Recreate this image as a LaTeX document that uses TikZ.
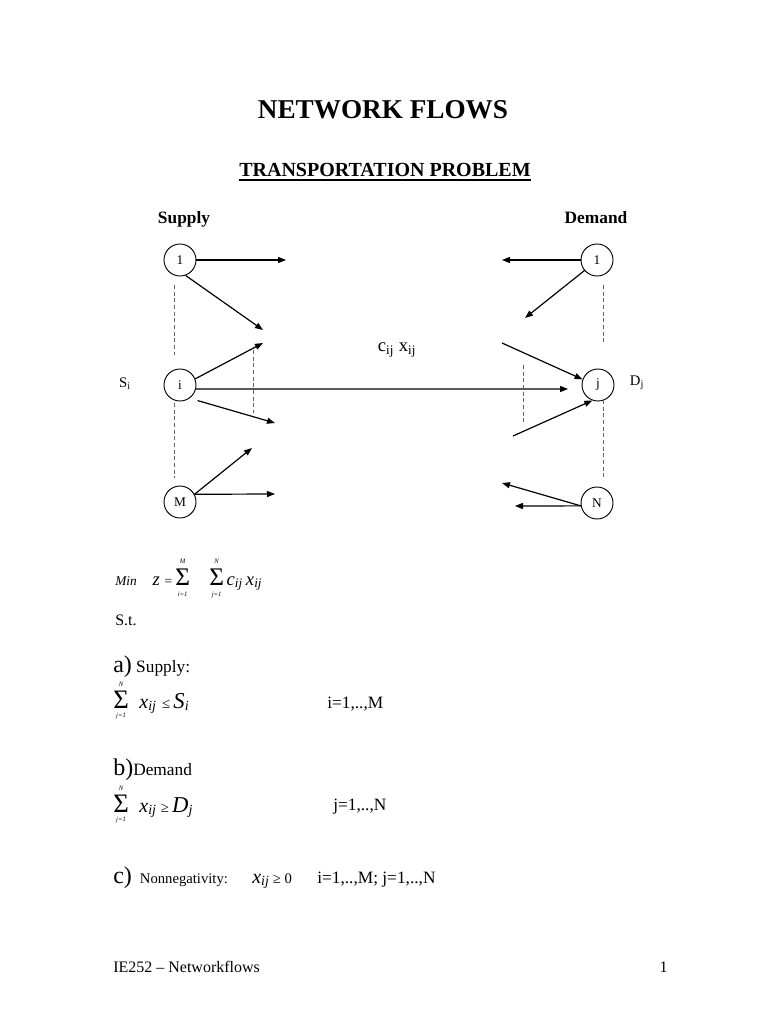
\documentclass[tikz,border=0pt]{standalone}
\usepackage{amsmath}
\usepackage{fontspec}
\setmainfont{Liberation Serif}
\usepackage{tikz}
\usetikzlibrary{arrows.meta}

\newcommand{\bigsum}[3]{\mathop{\hbox{\fontsize{#1}{#1}\selectfont\upshape Σ}}\limits^{\hbox{\fontsize{5}{6}\selectfont\itshape #2\rule[-2pt]{0pt}{2pt}}}_{\hbox{\fontsize{5}{6}\selectfont\itshape #3\rule{0pt}{5.5pt}}}}

\begin{document}
\begin{tikzpicture}[x=0.75pt,y=-0.75pt,
        vertex/.style={draw,circle,minimum size=24pt,inner sep=0pt,line width=0.7pt,font=\fontsize{10}{12}\selectfont},
        flow/.style={-{Triangle[length=6pt,width=4.5pt]},line width=0.9pt},
        gap/.style={draw=black!60,dash pattern=on 3pt off 2pt,line width=0.6pt},
        txt/.style={anchor=base west,inner sep=0pt}]
        \useasboundingbox (0,0) rectangle (768,1024);
        \fill[white] (0,0) rectangle (768,1024);

        \node[anchor=base,inner sep=0pt,font=\fontsize{20.4}{24}\selectfont\bfseries] (title) at (383,118) {NETWORK FLOWS};
        \node[anchor=base,inner sep=0pt,font=\fontsize{15}{18}\selectfont\bfseries] (sub) at (385,176) {TRANSPORTATION PROBLEM};
        \draw[line width=1.1pt] ([yshift=-3pt]sub.base west) -- ([yshift=-3pt]sub.base east);

        \node[anchor=base,inner sep=0pt,font=\fontsize{13}{15}\selectfont\bfseries] (suplab) at (184,223) {Supply};
        \node[anchor=base,inner sep=0pt,font=\fontsize{13}{15}\selectfont\bfseries] (demlab) at (596,223) {Demand};

        \node[vertex] (s1) at (180,260) {1};
        \node[vertex] (si) at (180,385) {i};
        \node[vertex] (sM) at (180,502) {M};
        \node[vertex] (d1) at (597,260) {1};
        \node[vertex] (dj) at (598,385) {j};
        \node[vertex] (dN) at (597,503) {N};

        \node[font=\fontsize{11}{13}\selectfont] (slab) at (125,384) {S\textsubscript{i}};
        \node[font=\fontsize{11}{13}\selectfont] (dlab) at (637,383) {D\textsubscript{j}};
        \node[font=\fontsize{14}{16}\selectfont] (cost) at (397,350) {c\textsubscript{ij} x\textsubscript{ij}};

        \coordinate (a1) at (286,260);
        \coordinate (a2) at (263,330);
        \coordinate (a3) at (263,343);
        \coordinate (a4) at (568,389);
        \coordinate (a5) at (275,423);
        \coordinate (a6) at (252,448);
        \coordinate (a7) at (275,494);
        \coordinate (b1) at (502,260);
        \coordinate (b2) at (525,318);
        \coordinate (b3) at (502,343);
        \coordinate (b4) at (513,436);
        \coordinate (b5) at (502,483);
        \coordinate (b6) at (515,506);

        \draw[flow] (s1.east) -- (a1);
        \draw[flow] (s1.-70) -- (a2);
        \draw[flow] (si.22) -- (a3);
        \draw[flow] (si.-14) -- (a4);
        \draw[flow] ([shift={(5,5)}]si.-40) -- (a5);
        \draw[flow] (sM.28) -- (a6);
        \draw[flow] (sM.28) -- (a7);
        \draw[flow] (d1.west) -- (b1);
        \draw[flow] (d1.-140) -- (b2);
        \draw[flow] (b3) -- (dj.160);
        \draw[flow] (b4) -- (dj.-110);
        \draw[flow] (dN.190) -- (b5);
        \draw[flow] (dN.190) -- (b6);

        \draw[gap] (174,285) -- (174,355);
        \draw[gap] (174,403) -- (174,478);
        \draw[gap] (603,285) -- (603,343);
        \draw[gap] (603,400) -- (603,480);
        \draw[gap] (253,350) -- (253,413);
        \draw[gap] (523,365) -- (523,425);

        \node[txt] (obj) at (115,585) {\fontsize{10}{12}\selectfont\itshape Min\hspace{12pt}\fontsize{14}{16}\selectfont z {\upshape\fontsize{10}{12}\selectfont =}\,$\bigsum{19}{M}{i=1}\hspace{12pt}\bigsum{19}{N}{j=1}$\hspace{2pt}c\textsubscript{ij}\,x\textsubscript{ij}};
        \node[txt] (st) at (115,625) {\fontsize{12}{14}\selectfont S.t.};

        \node[txt] (ahead) at (113,672) {\fontsize{18}{20}\selectfont a)\fontsize{13}{15}\selectfont\ Supply:};
        \node[txt] (acon) at (113,708) {$\bigsum{20}{N}{j=1}$\hspace{8pt}\fontsize{15}{17}\selectfont\itshape x\textsubscript{ij}\hspace{4pt}{\upshape\fontsize{11}{13}\selectfont ≤}\,{\fontsize{17}{19}\selectfont S}\textsubscript{i}};
        \node[txt] (arange) at (327,708) {\fontsize{13}{15}\selectfont i=1,..,M};

        \node[txt] (bhead) at (113,775) {\fontsize{18}{20}\selectfont b)\fontsize{13}{15}\selectfont Demand};
        \node[txt] (bcon) at (113,812) {$\bigsum{20}{N}{j=1}$\hspace{8pt}\fontsize{15}{17}\selectfont\itshape x\textsubscript{ij}\hspace{3pt}{\upshape\fontsize{11}{13}\selectfont ≥}\,{\fontsize{17}{19}\selectfont D}\textsubscript{j}};
        \node[txt] (brange) at (333,810) {\fontsize{13}{15}\selectfont j=1,..,N};

        \node[txt] (chead) at (113,883) {\fontsize{18}{20}\selectfont c)\fontsize{11}{13}\selectfont\hspace{6pt}Nonnegativity:};
        \node[txt] (cnon) at (252,883) {\fontsize{15}{17}\selectfont\itshape x\textsubscript{ij}\,{\upshape\fontsize{11}{13}\selectfont ≥ 0}};
        \node[txt] (crange) at (317,883) {\fontsize{13}{15}\selectfont i=1,..,M; j=1,..,N};

        \node[txt] (foot) at (113,972) {\fontsize{12}{14}\selectfont IE252 – Networkflows};
        \node[anchor=base east,inner sep=0pt] (page) at (668,972) {\fontsize{12}{14}\selectfont 1};
    \end{tikzpicture}
\end{document}
